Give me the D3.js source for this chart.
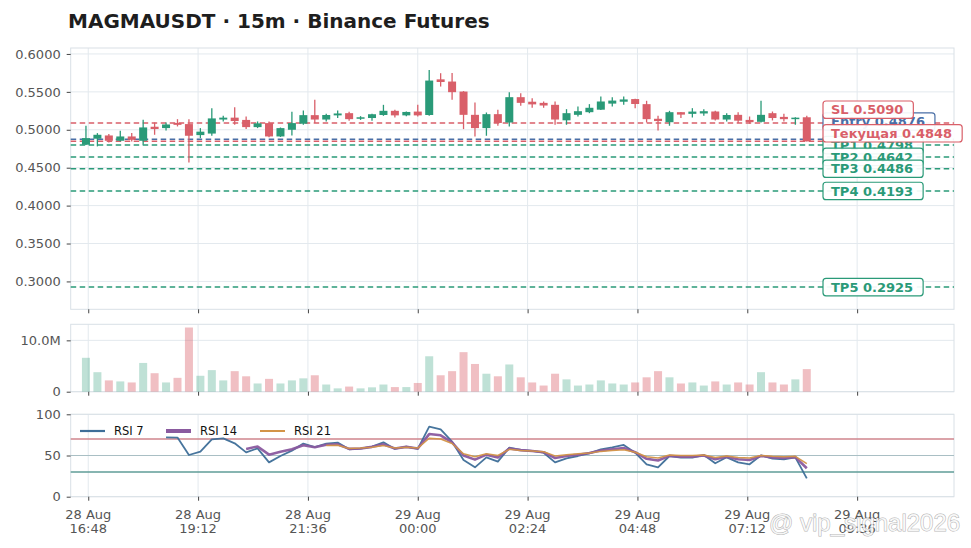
<!DOCTYPE html>
<html lang="ru">
<head>
<meta charset="utf-8">
<title>MAGMAUSDT 15m</title>
<script src="https://d3js.org/d3.v7.min.js"></script>
<style>
  * { margin:0; padding:0; box-sizing:border-box; }
  body { background:#fff; width:971px; height:548px; overflow:hidden; font-family:'DejaVu Sans', sans-serif; }
  .tick text { fill:#555; font-size:13px; font-family:'DejaVu Sans', sans-serif; }
  .tick line { stroke:#444; }
  .grid line { stroke:#e3e9ee; stroke-width:1; }
  .frame { fill:none; stroke:#d9e0e6; stroke-width:1; }
</style>
</head>
<body>
<svg id="chart" width="971" height="548"></svg>
<script>
// ─── Data ───
const barStart = Date.UTC(2025, 7, 28, 16, 45);   // first 15m bar
const barMinutes = 15;

const open = [0.4803,0.4882,0.4925,0.4855,0.4912,0.4855,0.5040,0.5022,0.5090,0.5075,
  0.4930,0.4950,0.5135,0.5160,0.5130,0.5035,0.5088,0.4912,0.5000,0.5080,
  0.5193,0.5135,0.5190,0.5219,0.5145,0.5155,0.5195,0.5250,0.5190,0.5240,
  0.5195,0.5665,0.5636,0.5504,0.5197,0.5022,0.5206,0.5096,0.5430,0.5370,
  0.5355,0.5329,0.5125,0.5197,0.5232,0.5265,0.5345,0.5370,0.5405,0.5338,
  0.5145,0.5100,0.5232,0.5210,0.5215,0.5241,0.5135,0.5197,0.5130,0.5105,
  0.5219,0.5170,0.5140,0.5165];
const high = [0.5053,0.4956,0.4943,0.4987,0.4956,0.5132,0.5096,0.5096,0.5140,0.5140,
  0.5022,0.5285,0.5184,0.5298,0.5175,0.5110,0.5110,0.5030,0.5237,0.5254,
  0.5395,0.5210,0.5254,0.5237,0.5180,0.5210,0.5329,0.5263,0.5240,0.5329,
  0.5789,0.5746,0.5750,0.5510,0.5359,0.5228,0.5263,0.5496,0.5482,0.5417,
  0.5373,0.5373,0.5272,0.5307,0.5338,0.5439,0.5430,0.5439,0.5410,0.5382,
  0.5184,0.5250,0.5235,0.5285,0.5272,0.5250,0.5219,0.5232,0.5175,0.5382,
  0.5241,0.5210,0.5165,0.5184];
const low = [0.4800,0.4781,0.4833,0.4846,0.4846,0.4803,0.4934,0.4991,0.5044,0.4570,
  0.4890,0.4921,0.5110,0.5066,0.5009,0.5022,0.4903,0.4905,0.4925,0.5066,
  0.5088,0.5110,0.5154,0.5118,0.5130,0.5118,0.5184,0.5162,0.5180,0.5175,
  0.5184,0.5570,0.5395,0.5009,0.4912,0.4921,0.5053,0.5044,0.5316,0.5290,
  0.5290,0.5066,0.5066,0.5175,0.5219,0.5260,0.5307,0.5329,0.5285,0.5096,
  0.4991,0.5053,0.5154,0.5162,0.5184,0.5123,0.5110,0.5088,0.5080,0.5096,
  0.5123,0.5110,0.5066,0.4845];
const close = [0.4890,0.4934,0.4855,0.4912,0.4868,0.5031,0.5010,0.5070,0.5065,0.4921,
  0.4975,0.5150,0.5160,0.5115,0.5035,0.5085,0.4912,0.5022,0.5088,0.5193,
  0.5135,0.5195,0.5215,0.5140,0.5165,0.5205,0.5250,0.5190,0.5235,0.5190,
  0.5649,0.5630,0.5496,0.5197,0.5022,0.5206,0.5090,0.5430,0.5355,0.5335,
  0.5320,0.5135,0.5219,0.5245,0.5290,0.5373,0.5385,0.5400,0.5340,0.5140,
  0.5115,0.5232,0.5200,0.5240,0.5245,0.5135,0.5195,0.5120,0.5100,0.5197,
  0.5155,0.5140,0.5160,0.4848];
// volume, millions
const volume = [6.6,3.8,2.2,2.0,1.8,5.6,3.6,1.8,2.7,12.5,
  3.1,4.2,2.2,4.0,3.0,1.6,2.5,1.6,2.2,2.6,
  3.2,1.4,0.65,1.0,0.65,0.85,1.4,0.9,0.9,1.7,
  6.9,3.2,4.0,7.7,5.4,3.5,3.0,5.3,2.8,1.8,
  1.2,3.5,2.4,1.2,1.4,2.2,1.6,1.4,1.8,2.8,
  4.0,2.8,1.6,1.8,1.2,2.0,1.4,1.8,1.4,3.8,
  1.8,1.4,2.4,4.4];

const rsi7 = [null,null,null,null,null,null,null,72,71.7,50.6,
  54.7,69.6,70.8,64.8,53.8,58.7,41.7,49.4,55.9,64.4,
  60.3,64.4,65.6,57.5,58.3,60.7,66,57.9,60.7,57.9,
  85,81.8,66.8,44.5,35.6,47.8,42.5,59.5,56.7,55.5,
  53.4,41.7,46.6,49.4,52.6,57.5,59.9,62.8,53.4,39.3,
  35.6,49.4,47.4,47.4,50.6,40.5,47.8,41.7,39.3,50.2,
  46.2,45.3,47.8,22.3];
const rsi14 = [null,null,null,null,null,null,null,null,null,null,
  null,null,null,null,58,61,51,54.5,57.5,62.5,
  60,63,63.5,58,58.5,60.5,63.5,58.5,60.5,58.5,
  76,74.5,66,50,45,51,47.5,58.5,56.5,55.5,
  54,47,49.5,51,53,56,57.5,59,54,46,
  44,49.5,48.5,48.5,50,45.5,48.5,45.5,44.5,49.5,
  47.5,47,48,34.5];
const rsi21 = [null,null,null,null,null,null,null,null,null,null,
  null,null,null,null,null,null,null,null,null,null,
  null,62,62.5,58.5,59,60,62,59,60,59,
  71,70,64.5,52,48.5,52,50,57.5,56,55.5,
  54.5,49.5,51,52,53,55,56,57,54,48.5,
  47,50.5,50,50,50.5,47.5,49.5,47.5,47,50,
  49,48.5,49,40];

const levelNames  = ['SL', 'Entry', 'Текущая', 'TP1', 'TP2', 'TP3', 'TP4', 'TP5'];
const levelValues = [0.5090, 0.4876, 0.4848, 0.4798, 0.4642, 0.4486, 0.4193, 0.2925];
const levelKinds  = ['stop', 'entry', 'stop', 'take', 'take', 'take', 'take', 'take'];

const priceTicks = [0.30, 0.35, 0.40, 0.45, 0.50, 0.55, 0.60];
const volTicks = [0, 10e6];
const rsiTicks = [0, 50, 100];
const timeTicks = ['2025-08-28T16:48Z','2025-08-28T19:12Z','2025-08-28T21:36Z','2025-08-29T00:00Z',
  '2025-08-29T02:24Z','2025-08-29T04:48Z','2025-08-29T07:12Z','2025-08-29T09:36Z'];

const rsiSeries = [
  { name:'RSI 7',  values:rsi7,  color:'#3d6e98', width:1.8, legendWidth:2.2 },
  { name:'RSI 14', values:rsi14, color:'#8a5a9f', width:2.6, legendWidth:4 },
  { name:'RSI 21', values:rsi21, color:'#d39447', width:1.5, legendWidth:2 }
];

// ─── Layout ───
const GREEN = '#2a9a78', RED = '#d95f69', BLUE = '#4a6fa6';
const kindColor = { stop:RED, entry:BLUE, take:GREEN };
const L = 70.7, R = 954;
const main = { top:48, bottom:309.3 };
const vol  = { top:324.3, bottom:391.7 };
const osc  = { top:414.3, bottom:496.7 };

const bars = open.map((o, i) => ({
  t: new Date(barStart + i * barMinutes * 60000),
  o, h: high[i], l: low[i], c: close[i], v: volume[i] * 1e6
}));

const svg = d3.select('#chart');

svg.append('text')
  .attr('x', 68).attr('y', 28)
  .attr('font-family', 'DejaVu Sans').attr('font-weight', 'bold').attr('font-size', 20)
  .attr('fill', '#1e1e1e')
  .text('MAGMAUSDT · 15m · Binance Futures');

const x = d3.scaleUtc()
  .domain([new Date(Date.UTC(2025, 7, 28, 16, 25)), new Date(Date.UTC(2025, 7, 29, 11, 43))])
  .range([L, R]);
const tickDates = timeTicks.map(s => new Date(s));
const bw = x(new Date(barStart + barMinutes * 60000 * 0.7)) - x(new Date(barStart));

const y = d3.scaleLinear()
  .domain([d3.min(levelValues) * 0.9, d3.max(high) * 1.05])
  .range([main.bottom, main.top]);
const yv = d3.scaleLinear()
  .domain([0, d3.max(bars, d => d.v) * 1.05])
  .range([vol.bottom, vol.top]);
const yr = d3.scaleLinear().domain([0, 100]).range([osc.bottom, osc.top]);

function panel(p, scale, ticks, fmt) {
  const g = svg.append('g');
  // grid
  const grid = g.append('g').attr('class', 'grid');
  grid.selectAll('.gx').data(tickDates).join('line')
    .attr('x1', d => x(d)).attr('x2', d => x(d))
    .attr('y1', p.top).attr('y2', p.bottom);
  grid.selectAll('.gy').data(ticks).join('line')
    .attr('x1', L).attr('x2', R)
    .attr('y1', d => scale(d)).attr('y2', d => scale(d));
  g.append('rect').attr('class', 'frame')
    .attr('x', L).attr('y', p.top).attr('width', R - L).attr('height', p.bottom - p.top);
  // y axis
  const ya = g.append('g').attr('transform', `translate(${L},0)`)
    .call(d3.axisLeft(scale).tickValues(ticks).tickFormat(fmt).tickSize(4).tickPadding(6));
  ya.select('.domain').remove();
  // x tick marks
  const xa = g.append('g').attr('transform', `translate(0,${p.bottom})`)
    .call(d3.axisBottom(x).tickValues(tickDates).tickSize(4).tickFormat(''));
  xa.select('.domain').remove();
  return g;
}

panel(main, y, priceTicks, d3.format('.4f'));
panel(vol, yv, volTicks, d => d === 0 ? '0' : (d / 1e6).toFixed(1) + 'M');
const oscG = panel(osc, yr, rsiTicks, d3.format('d'));

// x labels under the RSI panel
const fmtDay = d3.utcFormat('%d %b'), fmtTime = d3.utcFormat('%H:%M');
const xl = svg.append('g');
tickDates.forEach(d => {
  const t = xl.append('text')
    .attr('text-anchor', 'middle').attr('fill', '#555').attr('font-size', 13)
    .attr('font-family', 'DejaVu Sans');
  t.append('tspan').attr('x', x(d)).attr('y', 519).text(fmtDay(d));
  t.append('tspan').attr('x', x(d)).attr('y', 533).text(fmtTime(d));
});

// ─── Level lines ───
const lv = svg.append('g');
levelValues.forEach((v, i) => {
  lv.append('line')
    .attr('x1', L).attr('x2', R).attr('y1', y(v)).attr('y2', y(v))
    .attr('stroke', kindColor[levelKinds[i]]).attr('stroke-width', 1.5)
    .attr('stroke-dasharray', '5.5,3.5');
});

// ─── Candles ───
const cg = svg.append('g');
cg.selectAll('line.wick').data(bars).join('line')
  .attr('x1', d => x(d.t)).attr('x2', d => x(d.t))
  .attr('y1', d => y(d.h)).attr('y2', d => y(d.l))
  .attr('stroke', d => d.c >= d.o ? GREEN : RED).attr('stroke-width', 1.3);
cg.selectAll('rect.body').data(bars).join('rect')
  .attr('x', d => x(d.t) - bw / 2).attr('width', bw)
  .attr('y', d => y(Math.max(d.o, d.c)))
  .attr('height', d => Math.max(1.2, Math.abs(y(d.o) - y(d.c))))
  .attr('fill', d => d.c >= d.o ? GREEN : RED);

// ─── Level labels (pushed up so they don't overlap) ───
const labelGap = 11.8;
const order = d3.range(levelValues.length).sort((a, b) => levelValues[a] - levelValues[b]);
const labelY = [];
let prev = null;
order.forEach(i => {
  let ly = y(levelValues[i]);
  if (prev !== null) ly = Math.min(ly, prev - labelGap);
  labelY[i] = ly; prev = ly;
});
const drawOrder = [1, 0, 3, 4, 5, 6, 7, 2];
const lb = svg.append('g');
drawOrder.forEach(i => {
  const col = kindColor[levelKinds[i]];
  const g = lb.append('g');
  const box = g.append('rect');
  const txt = g.append('text')
    .attr('x', 831).attr('y', labelY[i]).attr('dy', '0.36em')
    .attr('font-family', 'DejaVu Sans').attr('font-weight', 'bold').attr('font-size', 13)
    .attr('fill', col)
    .text(`${levelNames[i]} ${levelValues[i].toFixed(4)}`);
  const w = txt.node().getComputedTextLength();
  box.attr('x', 823).attr('y', labelY[i] - 8.7).attr('width', w + 18).attr('height', 17.4)
    .attr('rx', 3).attr('fill', 'rgba(255,255,255,0.93)')
    .attr('stroke', col).attr('stroke-width', 1.2);
});

// ─── Volume ───
svg.append('g').selectAll('rect').data(bars).join('rect')
  .attr('x', d => x(d.t) - bw / 2).attr('width', bw)
  .attr('y', d => yv(d.v)).attr('height', d => yv(0) - yv(d.v))
  .attr('fill', d => d.c >= d.o ? GREEN : RED)
  .attr('opacity', d => d.c >= d.o ? 0.3 : 0.4);

// ─── RSI ───
const refLines = [
  { v:70, color:'#cf858c', w:1.5 },
  { v:50, color:'#a9bfc4', w:1.1 },
  { v:30, color:'#5f9d97', w:1.5 }
];
refLines.forEach(r => {
  oscG.append('line').attr('x1', L).attr('x2', R)
    .attr('y1', yr(r.v)).attr('y2', yr(r.v))
    .attr('stroke', r.color).attr('stroke-width', r.w);
});
const rsiLine = d3.line()
  .defined(d => d.v !== null)
  .x(d => x(d.t)).y(d => yr(d.v));
rsiSeries.forEach(s => {
  svg.append('path')
    .datum(bars.map((b, i) => ({ t:b.t, v:s.values[i] })))
    .attr('fill', 'none').attr('stroke', s.color).attr('stroke-width', s.width)
    .attr('stroke-linejoin', 'round').attr('opacity', 0.95)
    .attr('d', rsiLine);
});

// legend
const legendX = [80, 166, 260];
rsiSeries.forEach((s, i) => {
  svg.append('line').attr('x1', legendX[i]).attr('x2', legendX[i] + 25)
    .attr('y1', 431).attr('y2', 431)
    .attr('stroke', s.color).attr('stroke-width', s.legendWidth);
  svg.append('text').attr('x', legendX[i] + 34).attr('y', 431).attr('dy', '0.36em')
    .attr('font-family', 'DejaVu Sans').attr('font-size', 11.5).attr('fill', '#111')
    .text(s.name);
});

// watermark
svg.append('text')
  .attr('x', 769).attr('y', 531)
  .attr('font-family', 'Liberation Sans').attr('font-size', 24)
  .attr('fill', 'rgba(255,255,255,0.8)')
  .attr('stroke', 'rgba(110,110,110,0.55)').attr('stroke-width', 1)
  .attr('paint-order', 'stroke')
  .text('@ vip_signal2026');
</script>
</body>
</html>
